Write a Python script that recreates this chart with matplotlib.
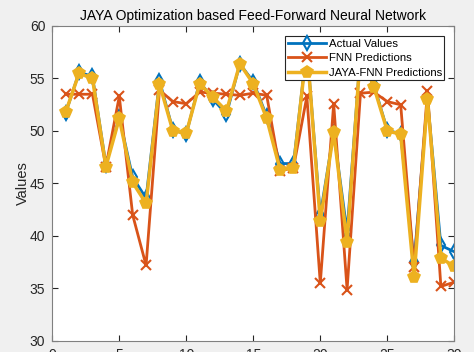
import matplotlib
matplotlib.use("Agg")
import matplotlib.pyplot as plt

# sample index
idx = list(range(1, 31))

actual = [51.7, 55.6, 55.2, 46.8, 51.3, 45.6, 43.6, 54.8, 50.1, 49.7,
          54.7, 53.0, 51.6, 56.4, 54.7, 51.4, 46.9, 46.9, 58.0, 42.0,
          49.9, 40.4, 57.5, 54.4, 50.1, 49.7, 37.5, 53.1, 39.1, 38.5]

fnn = [53.5, 53.5, 53.5, 46.6, 53.3, 42.0, 37.2, 53.9, 52.8, 52.6,
       53.7, 53.6, 53.5, 53.4, 53.6, 53.4, 46.2, 46.5, 53.3, 35.5,
       52.6, 34.9, 53.6, 53.7, 52.8, 52.5, 37.0, 53.8, 35.2, 35.6]

jaya_fnn = [51.8, 55.5, 55.0, 46.6, 51.2, 45.1, 43.1, 54.5, 50.0, 49.8,
            54.5, 53.2, 51.9, 56.4, 54.5, 51.2, 46.3, 46.5, 58.0, 41.4,
            49.9, 39.4, 57.5, 54.2, 50.0, 49.7, 36.1, 53.0, 37.9, 37.1]

plt.rcParams['font.family'] = ['Liberation Sans', 'DejaVu Sans']

fig = plt.figure(figsize=(4.74, 3.52), dpi=100, facecolor='#f0f0f0')
ax = fig.add_axes([0.1103, 0.03125, 0.8481, 0.8949])

ax.plot(idx, actual, color='#0072BD', lw=2, marker='d', ms=7,
        mfc='none', mew=1.5, label='Actual Values')
ax.plot(idx, fnn, color='#D95319', lw=2, marker='x', ms=7,
        mew=1.5, label='FNN Predictions')
ax.plot(idx, jaya_fnn, color='#EDB120', lw=2.5, marker='p', ms=8.5,
        mew=1.2, label='JAYA-FNN Predictions')

ax.set_xlim(0, 30)
ax.set_ylim(30, 60)
ax.set_xticks(range(0, 31, 5))
ax.set_yticks(range(30, 61, 5))
ax.tick_params(direction='in', top=True, right=True, labelsize=10,
               colors='#262626', length=4, pad=5)
for s in ax.spines.values():
    s.set_color('#808080')
    s.set_linewidth(0.8)

ax.set_ylabel('Values', fontsize=10.5, color='#262626', labelpad=0)
ax.set_title('JAYA Optimization based Feed-Forward Neural Network',
             fontsize=10, color='#000000', pad=4)

leg = ax.legend(loc='upper right', fontsize=8.2, fancybox=False,
                framealpha=1, edgecolor='#262626', handlelength=3.4,
                borderaxespad=0.9, labelspacing=0.4, handletextpad=0.2,
                borderpad=0.2)
leg.get_frame().set_linewidth(0.8)

fig.savefig('out.png', dpi=100, facecolor=fig.get_facecolor())
